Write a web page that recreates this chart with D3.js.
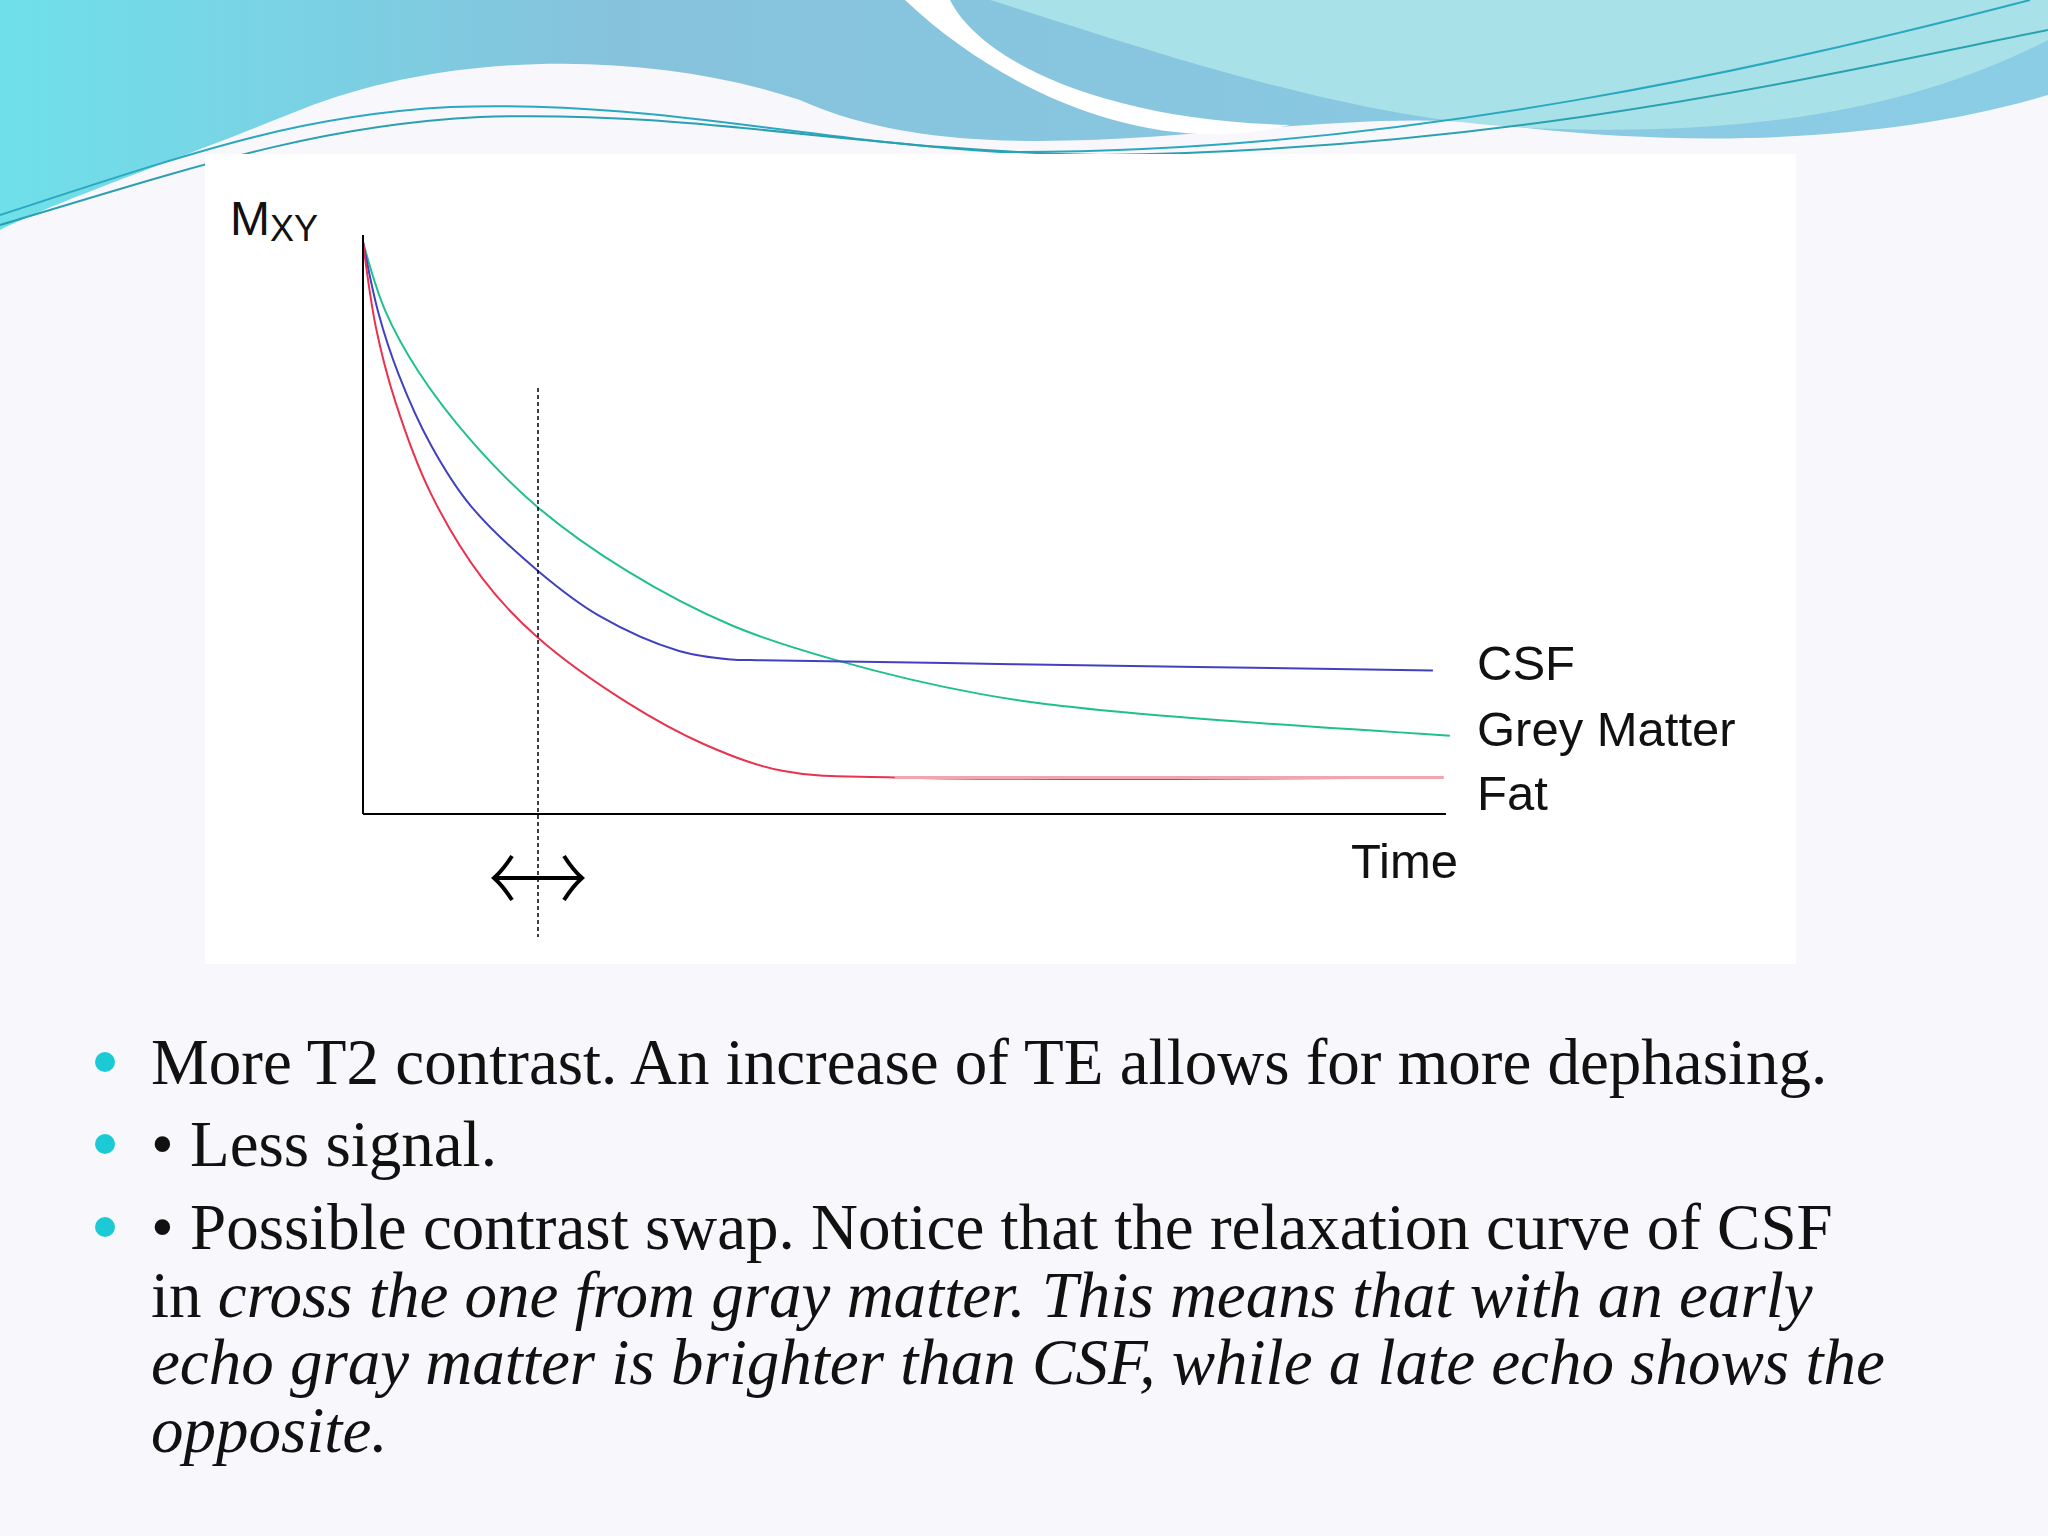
<!DOCTYPE html>
<html><head><meta charset="utf-8">
<script src="https://cdn.jsdelivr.net/npm/d3@7"></script>
<style>body{margin:0;background:#f8f8fc}svg{display:block}</style>
</head><body>
<script>
// curve samples: [time, Mxy]
var csf = [[0,1.0],[1.45,0.874],[3.26,0.770],[6.27,0.645],[9.89,0.540],[16.16,0.425],[21.95,0.345],[29.19,0.285],[34.02,0.270],[36.43,0.269],[60,0.262],[98.79,0.251]];
var grey = [[0,1],[2.05,0.880],[5.07,0.775],[9.89,0.655],[16.16,0.536],[24.37,0.425],[34.02,0.330],[43.67,0.269],[56.94,0.210],[69.0,0.180],[100.36,0.137]];
var fat = [[0,1],[1.2,0.850],[3.0,0.720],[6.27,0.560],[11.1,0.410],[16.16,0.308],[24.37,0.195],[31.6,0.121],[38.84,0.075],[49.1,0.064],[99.76,0.064]];
var labels = ["CSF", "Grey Matter", "Fat"];
var echoTime = 16.16;
var bullets = [
  [{t:"More T2 contrast. An increase of TE allows for more dephasing."}],
  [{t:"• Less signal."}],
  [{t:"• Possible contrast swap.  Notice that the relaxation curve of CSF"}],
  [{t:"in "},{t:"cross the one from gray matter. This means that with an early",i:1}],
  [{t:"echo gray matter is brighter than CSF, while a late echo shows the",i:1}],
  [{t:"opposite.",i:1}]
];

var svg = d3.select("body").append("svg").attr("width",2048).attr("height",1536);
var defs = svg.append("defs");
var g1 = defs.append("linearGradient").attr("id","wv").attr("x1",0).attr("x2",1);
g1.append("stop").attr("offset",0).attr("stop-color","#6fe0ea");
g1.append("stop").attr("offset",0.3).attr("stop-color","#86c2dc");
g1.append("stop").attr("offset",1).attr("stop-color","#8ccde6");

// top wave decoration
svg.append("path").attr("fill","url(#wv)")
  .attr("d","M0,0 H2048 V95 C1900,140 1700,150 1500,125 C1300,100 1000,190 800,100 C650,50 450,50 300,110 C150,170 60,200 0,230 Z");
svg.append("path").attr("fill","#ffffff")
  .attr("d","M905,0 C1000,90 1150,160 1290,125 C1100,120 980,60 950,0 Z");
svg.append("path").attr("fill","#a8e2e8")
  .attr("d","M990,0 H2048 V40 C1950,90 1800,140 1530,128 C1350,120 1150,50 990,0 Z");
svg.append("path").attr("fill","none").attr("stroke","#2aa8c0").attr("stroke-width",2)
  .attr("d","M0,215 C200,150 300,115 450,107 C650,100 800,140 1000,152 C1400,155 1800,60 2030,0");
svg.append("path").attr("fill","none").attr("stroke","#2aa0b0").attr("stroke-width",2)
  .attr("d","M0,225 C200,165 320,125 480,117 C700,110 850,150 1100,155 C1500,150 1800,80 2048,30");

// chart panel
svg.append("rect").attr("x",205).attr("y",154).attr("width",1591).attr("height",810).attr("fill","#ffffff");

var x = d3.scaleLinear().domain([0,100]).range([363,1446]);
var y = d3.scaleLinear().domain([0,1]).range([814,242]);
var line = d3.line().x(function(d){return x(d[0]);}).y(function(d){return y(d[1]);}).curve(d3.curveCatmullRom.alpha(0.5));

var series = [
  {d:grey, c:"#20c08c"},
  {d:csf, c:"#4040c0"},
  {d:fat, c:"#e8334e"}
];
series.forEach(function(s){
  svg.append("path").attr("d",line(s.d)).attr("fill","none").attr("stroke",s.c).attr("stroke-width",2);
});
// paler flat tail
svg.append("path").attr("d",line(fat.slice(-2))).attr("fill","none").attr("stroke","#f4a4b0").attr("stroke-width",3);

// axes
svg.append("line").attr("x1",x(0)).attr("x2",x(0)).attr("y1",235).attr("y2",y(0)).attr("stroke","#000").attr("stroke-width",2);
svg.append("line").attr("x1",x(0)).attr("x2",x(100)).attr("y1",y(0)).attr("y2",y(0)).attr("stroke","#000").attr("stroke-width",2);

// echo time marker
svg.append("line").attr("x1",x(echoTime)).attr("x2",x(echoTime)).attr("y1",388).attr("y2",937)
  .attr("stroke","#000").attr("stroke-width",1.5).attr("stroke-dasharray","4,3");
var ax = x(echoTime);
svg.append("path").attr("fill","none").attr("stroke","#000").attr("stroke-width",4)
  .attr("d","M"+(ax-44)+",878 H"+(ax+44)+
    " M"+(ax-26)+",856 Q"+(ax-35)+",870 "+(ax-44)+",878 Q"+(ax-35)+",886 "+(ax-26)+",900"+
    " M"+(ax+26)+",856 Q"+(ax+35)+",870 "+(ax+44)+",878 Q"+(ax+35)+",886 "+(ax+26)+",900");

var sans = "Liberation Sans, Arial, sans-serif";
var mt = svg.append("text").attr("x",230).attr("y",235).attr("font-family",sans).attr("font-size",48).attr("fill","#111");
mt.append("tspan").text("M");
mt.append("tspan").attr("font-size",36).attr("dy",6).text("XY");
svg.append("text").attr("x",1458).attr("y",878).attr("text-anchor","end").attr("font-family",sans).attr("font-size",49).attr("fill","#111").text("Time");
svg.selectAll("text.lab").data(labels).enter().append("text").attr("class","lab")
  .attr("x",1477).attr("y",function(d,i){return [680,746,810][i];})
  .attr("font-family",sans).attr("font-size",49).attr("fill","#111").text(function(d){return d;});

// bullets
var serif = "Liberation Serif, serif";
[1084,1166,1249].forEach(function(by){
  svg.append("circle").attr("cx",105).attr("cy",by-22).attr("r",10).attr("fill","#1ccad6");
});
bullets.forEach(function(ln,i){
  var t = svg.append("text").attr("x",151).attr("y",[1084,1166,1249,1317,1384,1452][i])
    .attr("font-family",serif).attr("font-size",65).attr("fill","#111");
  ln.forEach(function(p){ t.append("tspan").attr("font-style",p.i?"italic":null).text(p.t); });
});
</script>
</body></html>
